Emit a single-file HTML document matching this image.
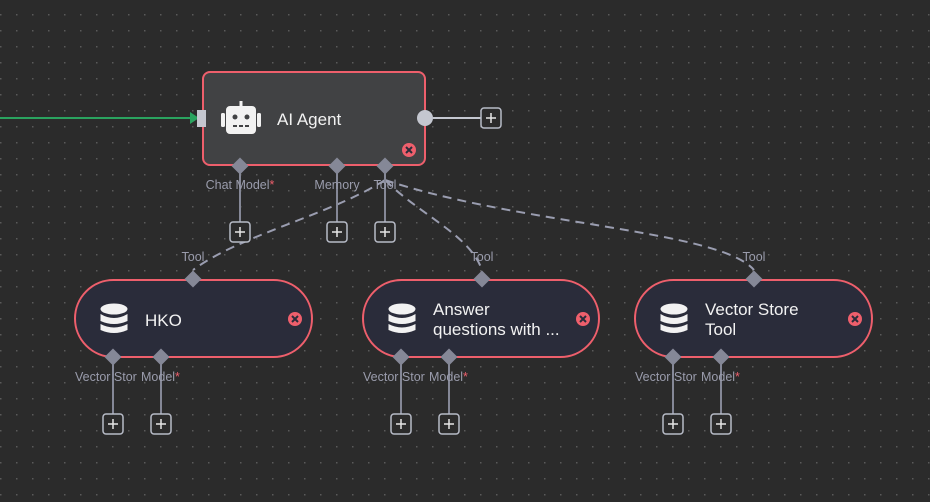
<!DOCTYPE html>
<html><head><meta charset="utf-8"><style>
html,body{margin:0;padding:0;background:#2b2b2b;}
svg{display:block;}
text{font-family:"Liberation Sans",sans-serif;}
</style></head><body>
<svg width="930" height="502" viewBox="0 0 930 502" xmlns="http://www.w3.org/2000/svg">
<defs>
<pattern id="dots" x="0" y="14" width="16" height="16" patternUnits="userSpaceOnUse">
<rect x="0" y="0" width="1.5" height="1.5" fill="#5a5a5a"/>
</pattern>
<g id="plus">
<rect x="-10" y="-10" width="20" height="20" rx="3" fill="#2b2b2b" stroke="#b8bcc8" stroke-width="1.5"/>
<path d="M-5 0H5M0 -5V5" stroke="#e6e6e6" stroke-width="1.5"/>
</g>
<g id="dia"><rect x="-6" y="-6" width="12" height="12" fill="#858897" transform="rotate(45)"/></g>
<g id="x"><circle r="7" fill="#ee5f6c"/><path d="M-3 -3L3 3M3 -3L-3 3" stroke="#2a2c3a" stroke-width="2"/></g>
<g id="db" fill="#f2f2f2">
<ellipse cx="0" cy="-10" rx="13.5" ry="5.5"/>
<path d="M-13.5 -5 Q0 3 13.5 -5 V2 Q0 8 -13.5 2Z"/>
<path d="M-13.5 5 Q0 12 13.5 5 V11 Q0 17 -13.5 11Z"/>
</g>
</defs>
<rect width="930" height="502" fill="#2b2b2b"/>
<rect width="930" height="502" fill="url(#dots)"/>

<line x1="0" y1="118" x2="192" y2="118" stroke="#2aa35f" stroke-width="2"/>
<path d="M190 112 L199 118 L190 124Z" fill="#2aa35f"/>

<g fill="none" stroke="#9a9db0" stroke-width="2" stroke-dasharray="9 6">
<path d="M385 180 C330 215 240 235 193 270"/>
<path d="M385 180 C420 215 470 235 482 270"/>
<path d="M385 180 C520 225 720 230 754 270"/>
</g>

<rect x="203" y="72" width="222" height="93" rx="7" fill="#414244" stroke="#ee5f6c" stroke-width="2"/>
<rect x="197" y="110" width="9" height="17" fill="#c4c7d0"/>
<g fill="#f2f2f2">
<rect x="226" y="106" width="30" height="28" rx="4"/>
<rect x="239.5" y="101" width="3" height="6"/>
<rect x="221" y="113" width="4" height="14" rx="1.5"/>
<rect x="257" y="113" width="4" height="14" rx="1.5"/>
</g>
<g fill="#414244">
<circle cx="235" cy="117" r="2.5"/><circle cx="247" cy="117" r="2.5"/>
<rect x="233" y="125" width="4" height="2"/><rect x="239" y="125" width="4" height="2"/><rect x="245" y="125" width="4" height="2"/>
</g>
<text x="277" y="125" font-size="17" fill="#f2f2f2">AI Agent</text>
<use href="#x" x="409" y="150"/>
<circle cx="425" cy="118" r="8" fill="#c4c7d0"/>
<line x1="433" y1="118" x2="481" y2="118" stroke="#c4c7d0" stroke-width="2"/>
<use href="#plus" x="491" y="118"/>

<g stroke="#858897" stroke-width="2">
<line x1="240" y1="166" x2="240" y2="222"/>
<line x1="337" y1="166" x2="337" y2="222"/>
<line x1="385" y1="166" x2="385" y2="222"/>
</g>
<use href="#dia" x="240" y="166"/><use href="#dia" x="337" y="166"/><use href="#dia" x="385" y="166"/>
<g font-size="12.5" fill="#9a9cac" text-anchor="middle">
<text x="240" y="189">Chat Model<tspan fill="#ee5f6c">*</tspan></text>
<text x="337" y="189">Memory</text>
<text x="385" y="189">Tool</text>
</g>
<use href="#plus" x="240" y="232"/><use href="#plus" x="337" y="232"/><use href="#plus" x="385" y="232"/>

<g font-size="12.5" fill="#9a9cac" text-anchor="middle">
<text x="193" y="261">Tool</text><text x="482" y="261">Tool</text><text x="754" y="261">Tool</text>
</g>

<g>
<rect x="75" y="280" width="237" height="77" rx="38.5" fill="#2a2c3a" stroke="#ee5f6c" stroke-width="2"/>
<use href="#dia" x="193" y="279"/>
<use href="#db" x="114" y="319"/>
<text x="145" y="326" font-size="17" fill="#f2f2f2">HKO</text>
<use href="#x" x="295" y="319"/>
</g>
<g>
<rect x="363" y="280" width="236" height="77" rx="38.5" fill="#2a2c3a" stroke="#ee5f6c" stroke-width="2"/>
<use href="#dia" x="482" y="279"/>
<use href="#db" x="402" y="319"/>
<text x="433" y="315" font-size="17" fill="#f2f2f2">Answer</text>
<text x="433" y="335" font-size="17" fill="#f2f2f2">questions with ...</text>
<use href="#x" x="583" y="319"/>
</g>
<g>
<rect x="635" y="280" width="237" height="77" rx="38.5" fill="#2a2c3a" stroke="#ee5f6c" stroke-width="2"/>
<use href="#dia" x="754" y="279"/>
<use href="#db" x="674" y="319"/>
<text x="705" y="315" font-size="17" fill="#f2f2f2">Vector Store</text>
<text x="705" y="335" font-size="17" fill="#f2f2f2">Tool</text>
<use href="#x" x="855" y="319"/>
</g>

<g stroke="#858897" stroke-width="2">
<line x1="113" y1="357" x2="113" y2="414"/><line x1="161" y1="357" x2="161" y2="414"/>
<line x1="401" y1="357" x2="401" y2="414"/><line x1="449" y1="357" x2="449" y2="414"/>
<line x1="673" y1="357" x2="673" y2="414"/><line x1="721" y1="357" x2="721" y2="414"/>
</g>
<use href="#dia" x="113" y="357"/><use href="#dia" x="161" y="357"/>
<use href="#dia" x="401" y="357"/><use href="#dia" x="449" y="357"/>
<use href="#dia" x="673" y="357"/><use href="#dia" x="721" y="357"/>
<g font-size="12.5" fill="#9a9cac">
<text x="75" y="381">Vector Stor</text><text x="141" y="381">Model<tspan fill="#ee5f6c">*</tspan></text>
<text x="363" y="381">Vector Stor</text><text x="429" y="381">Model<tspan fill="#ee5f6c">*</tspan></text>
<text x="635" y="381">Vector Stor</text><text x="701" y="381">Model<tspan fill="#ee5f6c">*</tspan></text>
</g>
<use href="#plus" x="113" y="424"/><use href="#plus" x="161" y="424"/>
<use href="#plus" x="401" y="424"/><use href="#plus" x="449" y="424"/>
<use href="#plus" x="673" y="424"/><use href="#plus" x="721" y="424"/>
</svg>
</body></html>
